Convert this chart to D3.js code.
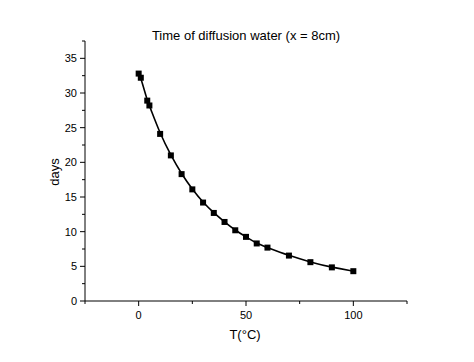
<!DOCTYPE html>
<html><head><meta charset="utf-8">
<script src="https://cdn.jsdelivr.net/npm/d3@7/dist/d3.min.js"></script>
<style>body{margin:0;background:#fff}svg{display:block}text{font-family:"Liberation Sans",Arial,sans-serif}</style>
</head><body>
<svg id="c" width="474" height="362"></svg>
<script>
const temps = [0,1,4,5,10,15,20,25,30,35,40,45,50,55,60,70,80,90,100];
const days  = [32.8,32.2,28.9,28.2,24.1,21.0,18.3,16.1,14.2,12.7,11.4,10.2,9.25,8.3,7.7,6.55,5.6,4.85,4.3];
const xTicks = [0,50,100];
const yTicks = [0,5,10,15,20,25,30,35];
const title = "Time of diffusion water (x = 8cm)";
const xLabel = "T(°C)";
const yLabel = "days";

const svg = d3.select("#c");
const x = d3.scaleLinear().domain([-25,125]).range([85,407]);
const y = d3.scaleLinear().domain([0,37.5]).range([301,41]);

// axes
const gx = svg.append("g").attr("transform","translate(0,301)");
gx.append("line").attr("x1",x(-25)).attr("x2",x(125)).attr("stroke","#000");
gx.selectAll(".maj").data(xTicks).join("line").attr("x1",d=>x(d)).attr("x2",d=>x(d)).attr("y1",0).attr("y2",5).attr("stroke","#000");
gx.selectAll(".min").data([-25,25,75,125]).join("line").attr("class","min").attr("x1",d=>x(d)).attr("x2",d=>x(d)).attr("y1",0).attr("y2",3).attr("stroke","#000");
gx.selectAll("text").data(xTicks).join("text").attr("x",d=>x(d)).attr("y",18).attr("text-anchor","middle").attr("font-size",11).text(d=>d);

const gy = svg.append("g").attr("transform","translate(85,0)");
gy.append("line").attr("y1",y(0)).attr("y2",y(37.5)).attr("stroke","#000");
gy.selectAll(".maj").data(yTicks).join("line").attr("y1",d=>y(d)).attr("y2",d=>y(d)).attr("x1",0).attr("x2",-5).attr("stroke","#000");
gy.selectAll(".min").data(d3.range(2.5,40,5)).join("line").attr("class","min").attr("y1",d=>y(d)).attr("y2",d=>y(d)).attr("x1",0).attr("x2",-3).attr("stroke","#000");
gy.selectAll("text").data(yTicks).join("text").attr("x",-8).attr("y",d=>y(d)+4).attr("text-anchor","end").attr("font-size",11).text(d=>d);

// curve
const pts = temps.map((t,i)=>[t,days[i]]);
svg.append("path").datum(pts).attr("fill","none").attr("stroke","#000").attr("stroke-width",1.6)
  .attr("d",d3.line().x(d=>x(d[0])).y(d=>y(d[1])).curve(d3.curveBasis));
svg.selectAll(".pt").data(pts).join("rect").attr("class","pt")
  .attr("x",d=>x(d[0])-3).attr("y",d=>y(d[1])-3).attr("width",6).attr("height",6).attr("fill","#000");

svg.append("text").attr("x",246).attr("y",40).attr("text-anchor","middle").attr("font-size",13).text(title);
svg.append("text").attr("x",245).attr("y",339).attr("text-anchor","middle").attr("font-size",13).text(xLabel);
svg.append("text").attr("transform","translate(59,172) rotate(-90)").attr("text-anchor","middle").attr("font-size",13).text(yLabel);
</script>
</body></html>
